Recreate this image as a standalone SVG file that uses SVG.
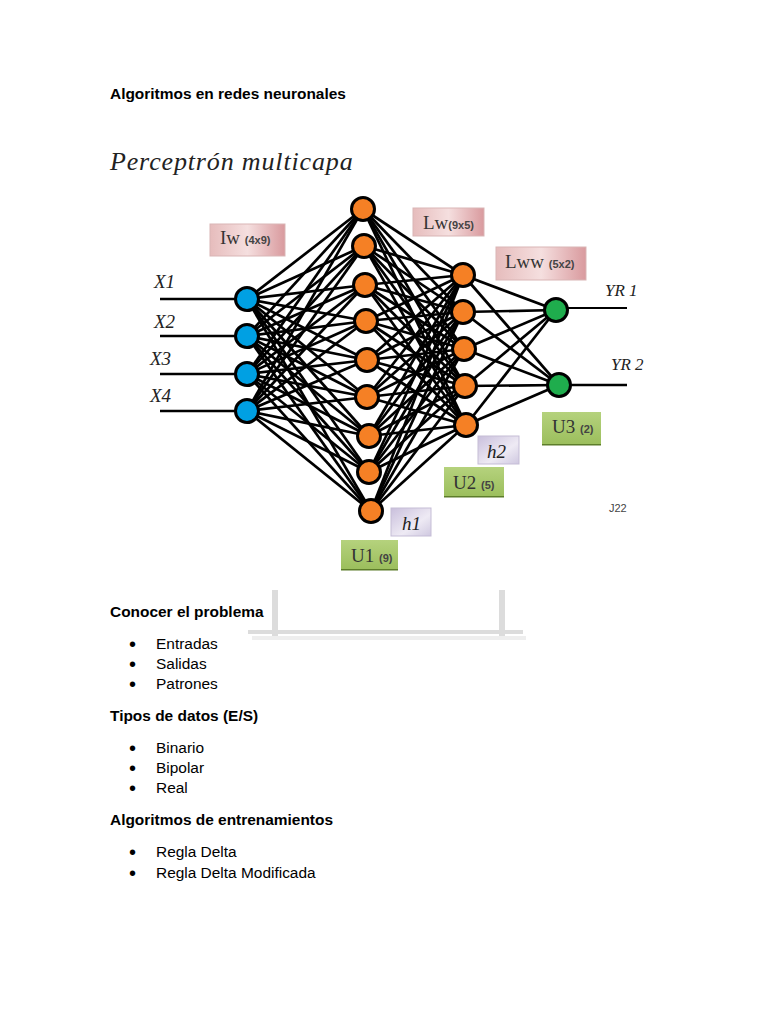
<svg xmlns="http://www.w3.org/2000/svg" width="768" height="1024" viewBox="0 0 768 1024">
<style>
.b{font:bold 15.45px "Liberation Sans",Arial,sans-serif;fill:#000}
.t{font:15.45px "Liberation Sans",Arial,sans-serif;fill:#000}
.d{font:20px "Liberation Sans",Arial,sans-serif;fill:#000}
.s{font:italic 19px "Liberation Serif","Times New Roman",serif;fill:#222}
.y{font:italic 17px "Liberation Serif","Times New Roman",serif;fill:#222}
.l{font:19px "Liberation Serif","Times New Roman",serif;fill:#333}
.m{font:bold 11px "Liberation Sans",Arial,sans-serif;fill:#444}
.in{fill:#00a0e3;stroke:#000;stroke-width:3}
.hd{fill:#f58025;stroke:#000;stroke-width:3}
.ou{fill:#1fad4d;stroke:#000;stroke-width:3}
#connectors line{stroke:#000;stroke-width:2.7}
#connectors line.th{stroke-width:2}
.sh{stroke:#dcdcdc;fill:none}
</style>
<defs>
<linearGradient id="r" x1="0" x2="1" y1="0" y2="0"><stop offset="0" stop-color="#e6bcbc"/><stop offset=".5" stop-color="#f5dfdf"/><stop offset="1" stop-color="#d99a9e"/></linearGradient>
<linearGradient id="g" x1="0" x2="0" y1="0" y2="1"><stop offset="0" stop-color="#b5d27d"/><stop offset="1" stop-color="#9bbe5c"/></linearGradient>
<linearGradient id="p" x1="0" x2="1" y1="0" y2="1"><stop offset="0" stop-color="#c9bfdc"/><stop offset=".6" stop-color="#eeeaf4"/><stop offset="1" stop-color="#cfc8e0"/></linearGradient>
</defs>
<rect width="768" height="1024" fill="#fff"/>
<text class="b" x="110" y="99">Algoritmos en redes neuronales</text>
<text x="110" y="170" font-family="Liberation Serif, serif" font-style="italic" font-size="26" letter-spacing="0.85" fill="#222">Perceptrón multicapa</text>
<g id="connectors">
<line x1="160" y1="299" x2="247" y2="299"/><line x1="160" y1="336" x2="247" y2="336"/><line x1="160" y1="374" x2="247" y2="374"/><line x1="160" y1="411" x2="247" y2="411"/>
<line x1="247" y1="299" x2="363" y2="209"/><line x1="247" y1="299" x2="364" y2="246"/><line x1="247" y1="299" x2="365" y2="285"/><line x1="247" y1="299" x2="366" y2="321"/><line x1="247" y1="299" x2="367" y2="360"/><line x1="247" y1="299" x2="367" y2="397"/><line x1="247" y1="299" x2="369" y2="436"/><line x1="247" y1="299" x2="369" y2="472"/><line x1="247" y1="299" x2="371" y2="511"/>
<line x1="247" y1="336" x2="363" y2="209"/><line x1="247" y1="336" x2="364" y2="246"/><line x1="247" y1="336" x2="365" y2="285"/><line x1="247" y1="336" x2="366" y2="321"/><line x1="247" y1="336" x2="367" y2="360"/><line x1="247" y1="336" x2="367" y2="397"/><line x1="247" y1="336" x2="369" y2="436"/><line x1="247" y1="336" x2="369" y2="472"/><line x1="247" y1="336" x2="371" y2="511"/>
<line x1="247" y1="374" x2="363" y2="209"/><line x1="247" y1="374" x2="364" y2="246"/><line x1="247" y1="374" x2="365" y2="285"/><line x1="247" y1="374" x2="366" y2="321"/><line x1="247" y1="374" x2="367" y2="360"/><line x1="247" y1="374" x2="367" y2="397"/><line x1="247" y1="374" x2="369" y2="436"/><line x1="247" y1="374" x2="369" y2="472"/><line x1="247" y1="374" x2="371" y2="511"/>
<line x1="247" y1="411" x2="363" y2="209"/><line x1="247" y1="411" x2="364" y2="246"/><line x1="247" y1="411" x2="365" y2="285"/><line x1="247" y1="411" x2="366" y2="321"/><line x1="247" y1="411" x2="367" y2="360"/><line x1="247" y1="411" x2="367" y2="397"/><line x1="247" y1="411" x2="369" y2="436"/><line x1="247" y1="411" x2="369" y2="472"/><line x1="247" y1="411" x2="371" y2="511"/>
<line x1="363" y1="209" x2="463" y2="275"/><line x1="363" y1="209" x2="463" y2="312"/><line x1="363" y1="209" x2="464" y2="349"/><line x1="363" y1="209" x2="465" y2="386"/><line x1="363" y1="209" x2="466" y2="425"/>
<line x1="364" y1="246" x2="463" y2="275"/><line x1="364" y1="246" x2="463" y2="312"/><line x1="364" y1="246" x2="464" y2="349"/><line x1="364" y1="246" x2="465" y2="386"/><line x1="364" y1="246" x2="466" y2="425"/>
<line x1="365" y1="285" x2="463" y2="275"/><line x1="365" y1="285" x2="463" y2="312"/><line x1="365" y1="285" x2="464" y2="349"/><line x1="365" y1="285" x2="465" y2="386"/><line x1="365" y1="285" x2="466" y2="425"/>
<line x1="366" y1="321" x2="463" y2="275"/><line x1="366" y1="321" x2="463" y2="312"/><line x1="366" y1="321" x2="464" y2="349"/><line x1="366" y1="321" x2="465" y2="386"/><line x1="366" y1="321" x2="466" y2="425"/>
<line x1="367" y1="360" x2="463" y2="275"/><line x1="367" y1="360" x2="463" y2="312"/><line x1="367" y1="360" x2="464" y2="349"/><line x1="367" y1="360" x2="465" y2="386"/><line x1="367" y1="360" x2="466" y2="425"/>
<line x1="367" y1="397" x2="463" y2="275"/><line x1="367" y1="397" x2="463" y2="312"/><line x1="367" y1="397" x2="464" y2="349"/><line x1="367" y1="397" x2="465" y2="386"/><line x1="367" y1="397" x2="466" y2="425"/>
<line x1="369" y1="436" x2="463" y2="275"/><line x1="369" y1="436" x2="463" y2="312"/><line x1="369" y1="436" x2="464" y2="349"/><line x1="369" y1="436" x2="465" y2="386"/><line x1="369" y1="436" x2="466" y2="425"/>
<line x1="369" y1="472" x2="463" y2="275"/><line x1="369" y1="472" x2="463" y2="312"/><line x1="369" y1="472" x2="464" y2="349"/><line x1="369" y1="472" x2="465" y2="386"/><line x1="369" y1="472" x2="466" y2="425"/>
<line x1="371" y1="511" x2="463" y2="275"/><line x1="371" y1="511" x2="463" y2="312"/><line x1="371" y1="511" x2="464" y2="349"/><line x1="371" y1="511" x2="465" y2="386"/><line x1="371" y1="511" x2="466" y2="425"/>
<line x1="463" y1="275" x2="556" y2="310"/><line x1="463" y1="275" x2="559" y2="385"/>
<line x1="463" y1="312" x2="556" y2="310"/><line x1="463" y1="312" x2="559" y2="385"/>
<line x1="464" y1="349" x2="556" y2="310"/><line x1="464" y1="349" x2="559" y2="385"/>
<line x1="465" y1="386" x2="556" y2="310"/><line x1="465" y1="386" x2="559" y2="385"/>
<line x1="466" y1="425" x2="556" y2="310"/><line x1="466" y1="425" x2="559" y2="385"/>
<line class="th" x1="556" y1="308" x2="627" y2="308"/><line x1="559" y1="385" x2="627" y2="385"/>
</g>
<g id="input-nodes">
<circle id="i1" class="in" cx="247" cy="299" r="11.5"/><circle id="i2" class="in" cx="247" cy="336" r="11.5"/><circle id="i3" class="in" cx="247" cy="374" r="11.5"/><circle id="i4" class="in" cx="247" cy="411" r="11.5"/>
</g>
<g id="hidden1-nodes">
<circle class="hd" cx="363" cy="209" r="11.5"/><circle class="hd" cx="364" cy="246" r="11.5"/><circle class="hd" cx="365" cy="285" r="11.5"/><circle class="hd" cx="366" cy="321" r="11.5"/><circle class="hd" cx="367" cy="360" r="11.5"/><circle class="hd" cx="367" cy="397" r="11.5"/><circle class="hd" cx="369" cy="436" r="11.5"/><circle class="hd" cx="369" cy="472" r="11.5"/><circle class="hd" cx="371" cy="511" r="11.5"/>
</g>
<g id="hidden2-nodes">
<circle class="hd" cx="463" cy="275" r="11.5"/><circle class="hd" cx="463" cy="312" r="11.5"/><circle class="hd" cx="464" cy="349" r="11.5"/><circle class="hd" cx="465" cy="386" r="11.5"/><circle class="hd" cx="466" cy="425" r="11.5"/>
</g>
<g id="output-nodes">
<circle class="ou" cx="556" cy="310" r="11.5"/><circle class="ou" cx="559" cy="385" r="11.5"/>
</g>
<g id="labels">
<g id="iw"><rect x="210" y="224" width="75" height="32" fill="url(#r)" stroke="#d9b5b5"/><text class="l" x="220" y="244">Iw <tspan class="m">(4x9)</tspan></text></g>
<g id="lw"><rect x="413" y="208" width="71" height="28" fill="url(#r)" stroke="#d9b5b5"/><text class="l" x="423" y="229">Lw<tspan class="m">(9x5)</tspan></text></g>
<g id="lww"><rect x="496" y="247" width="90" height="33" fill="url(#r)" stroke="#d9b5b5"/><text class="l" x="505" y="268">Lww <tspan class="m">(5x2)</tspan></text></g>
<g id="u3"><rect x="542" y="412" width="59" height="33" fill="url(#g)"/><rect x="542" y="444" width="59" height="1.5" fill="#5d7d2a"/><text class="l" x="552" y="433">U3 <tspan class="m">(2)</tspan></text></g>
<g id="u2"><rect x="444" y="467" width="60" height="30" fill="url(#g)"/><rect x="444" y="496" width="60" height="1.5" fill="#5d7d2a"/><text class="l" x="453" y="489">U2 <tspan class="m">(5)</tspan></text></g>
<g id="u1"><rect x="341" y="540" width="57" height="30" fill="url(#g)"/><rect x="341" y="569" width="57" height="1.5" fill="#5d7d2a"/><text class="l" x="351" y="562">U1 <tspan class="m">(9)</tspan></text></g>
<g id="h2"><rect x="478" y="436" width="41" height="28" fill="url(#p)" stroke="#c5bdd6"/><text class="s" x="487" y="458">h2</text></g>
<g id="h1"><rect x="391" y="508" width="40" height="28" fill="url(#p)" stroke="#c5bdd6"/><text class="s" x="402" y="530">h1</text></g>
<text class="s" x="154" y="288">X1</text><text class="s" x="154" y="328">X2</text><text class="s" x="150" y="365">X3</text><text class="s" x="150" y="402">X4</text>
<text class="y" x="605" y="296">YR 1</text><text class="y" x="611" y="370">YR 2</text>
<text x="609" y="512" font-family="Liberation Sans, sans-serif" font-size="11" fill="#444">J22</text>
</g>
<g id="shadow">
<path class="sh" stroke-width="6" d="M275 590V636M502 590V636"/>
<path class="sh" stroke-width="4" d="M248 632H523"/>
<path d="M252 638H526" stroke="#eee" stroke-width="4"/>
</g>
<text class="b" x="110" y="617">Conocer el problema</text>
<g class="t">
<text x="156" y="649">Entradas</text><text x="156" y="669">Salidas</text><text x="156" y="689">Patrones</text>
<text x="156" y="753">Binario</text><text x="156" y="773">Bipolar</text><text x="156" y="793">Real</text>
<text x="156" y="857">Regla Delta</text><text x="156" y="878">Regla Delta Modificada</text>
</g>
<g class="d">
<text x="129" y="651">•</text><text x="129" y="671">•</text><text x="129" y="691">•</text>
<text x="129" y="755">•</text><text x="129" y="775">•</text><text x="129" y="795">•</text>
<text x="129" y="859">•</text><text x="129" y="880">•</text>
</g>
<text class="b" x="110" y="721">Tipos de datos (E/S)</text>
<text class="b" x="110" y="825">Algoritmos de entrenamientos</text>
</svg>
